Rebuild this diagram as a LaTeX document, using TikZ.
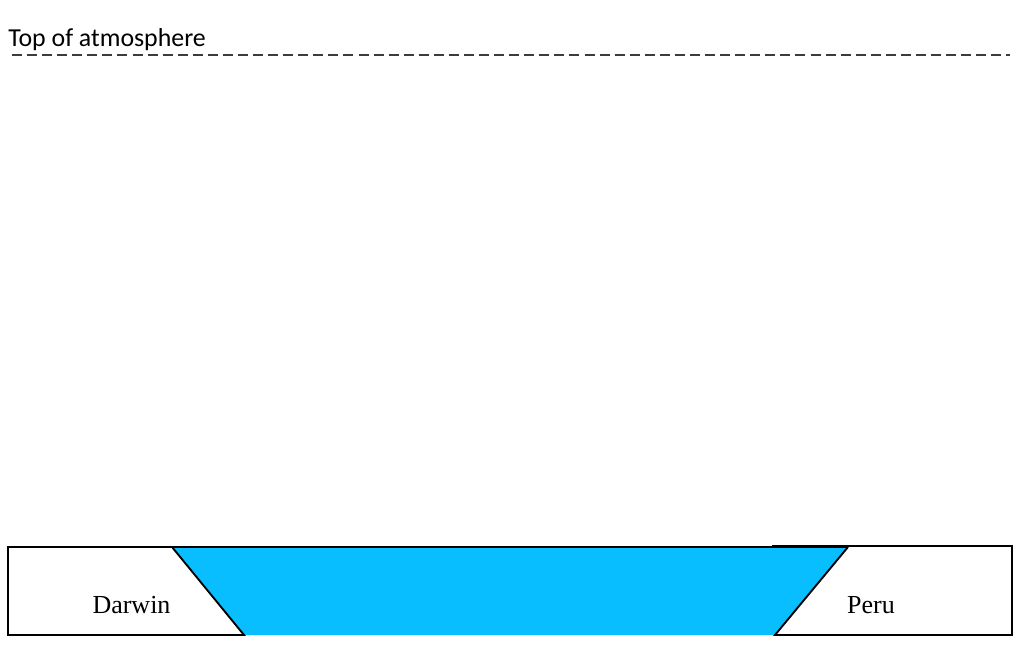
\documentclass[tikz,border=0pt]{standalone}
\usepackage{fontspec}
\setmainfont{Liberation Serif}
\newfontfamily\labelfont{Carlito}
\definecolor{ocean}{RGB}{8,190,255}
\definecolor{dashgray}{RGB}{60,60,60}
\begin{document}
\begin{tikzpicture}[x=0.75pt,y=-0.75pt,
  landbox/.style={draw=black,line width=1.4pt,line join=miter},
  toplabel/.style={font=\labelfont\fontsize{19.4}{22}\selectfont,anchor=base west,inner sep=0pt},
  placelabel/.style={font=\fontsize{19.5}{22}\selectfont,anchor=base,inner sep=0pt},
  atmos/.style={draw=dashgray,line width=1.1pt,dash pattern=on 7.5pt off 3.8pt}]
\useasboundingbox (0,0) rectangle (1024,654);
% top of atmosphere
\node[toplabel] (toa) at (8,46) {Top of atmosphere};
\coordinate (dl) at (12,55);
\coordinate (dr) at (1010,55);
\draw[atmos] (dl) -- (dr);
% coordinates
\coordinate (dtl) at (8,547);
\coordinate (dbl) at (8,635);
\coordinate (wtl) at (172,547);
\coordinate (wbl) at (244,635);
\coordinate (wtr) at (848,547);
\coordinate (wbr) at (775,635);
\coordinate (ptl) at (772,546);
\coordinate (ptr) at (1012,546);
\coordinate (pbr) at (1012,635);
% ocean
\fill[ocean] (wtl) -- (wtr) -- (wbr) -- (wbl) -- cycle;
\draw[black,line width=1pt] (wtl) -- (wtr);
% Darwin land
\draw[landbox] (wtl) -- (dtl) -- (dbl) -- (wbl) -- cycle;
% Peru land
\draw[landbox] (ptl) -- (ptr) -- (pbr) -- (wbr) -- (wtr);
\node[placelabel] (darwin) at (131.5,613) {Darwin};
\node[placelabel] (peru) at (871,613) {Peru};
\end{tikzpicture}
\end{document}
